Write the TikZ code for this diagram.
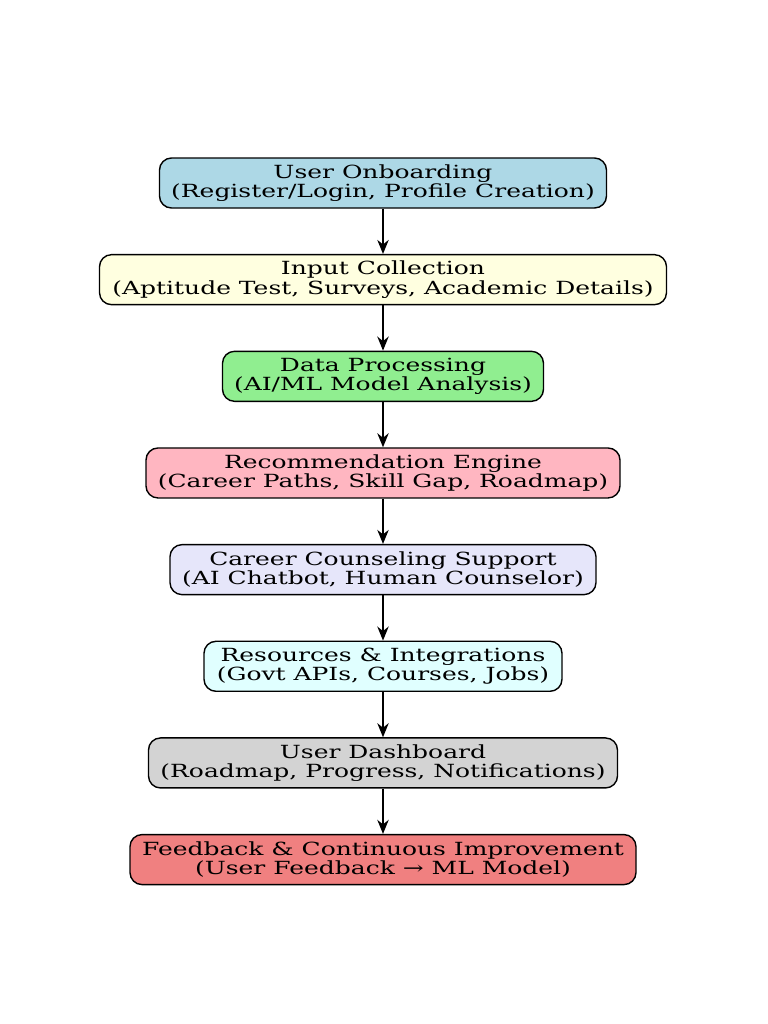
\documentclass[tikz,border=0pt]{standalone}
\usepackage{fontspec}
\setmainfont[FakeStretch=1.38]{DejaVu Serif}
\usetikzlibrary{positioning, arrows, arrows.meta}
\definecolor{onboard}{RGB}{173,216,230}
\definecolor{inputc}{RGB}{255,255,224}
\definecolor{process}{RGB}{144,238,144}
\definecolor{recom}{RGB}{255,182,193}
\definecolor{counsel}{RGB}{230,230,250}
\definecolor{resrc}{RGB}{224,255,255}
\definecolor{dash}{RGB}{211,211,211}
\definecolor{feedb}{RGB}{240,128,128}
\tikzset{
    >={Stealth[length=8pt, width=6.5pt]}, % filled arrow heads
    stage/.style={draw, thick, rounded corners=0.24cm, minimum height=1cm,
        align=center, font=\fontsize{10.3}{10.9}\selectfont, inner sep=0pt},
    flow/.style={->, thick},
    node distance=0.905cm,
}
\begin{document}
\begin{tikzpicture}
\useasboundingbox (0,0) rectangle (15.36,-20.48);
\node[stage, fill=onboard, minimum width=8.94cm] (onb) at (7.66,-3.66) {User Onboarding\\(Register/Login, Profile Creation)};
\node[stage, fill=inputc, minimum width=11.34cm, below=of onb] (inp) {Input Collection\\(Aptitude Test, Surveys, Academic Details)};
\node[stage, fill=process, minimum width=6.42cm, below=of inp] (proc) {Data Processing\\(AI/ML Model Analysis)};
\node[stage, fill=recom, minimum width=9.48cm, below=of proc] (rec) {Recommendation Engine\\(Career Paths, Skill Gap, Roadmap)};
\node[stage, fill=counsel, minimum width=8.52cm, below=of rec] (coun) {Career Counseling Support\\(AI Chatbot, Human Counselor)};
\node[stage, fill=resrc, minimum width=7.16cm, below=of coun] (res) {Resources \& Integrations\\(Govt APIs, Courses, Jobs)};
\node[stage, fill=dash, minimum width=9.38cm, below=of res] (dsh) {User Dashboard\\(Roadmap, Progress, Notifications)};
\node[stage, fill=feedb, minimum width=10.12cm, below=of dsh] (fdb) {Feedback \& Continuous Improvement\\(User Feedback → ML Model)};
\foreach \a/\b in {onb/inp, inp/proc, proc/rec, rec/coun, coun/res, res/dsh, dsh/fdb}
    \draw[flow] (\a) -- (\b);
\end{tikzpicture}
\end{document}
